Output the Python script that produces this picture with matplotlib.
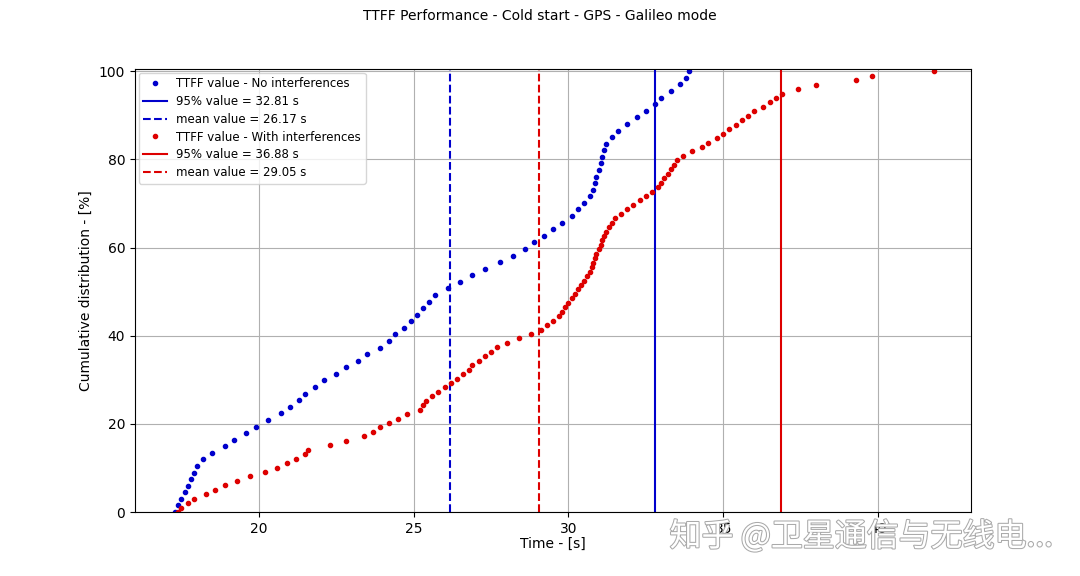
import matplotlib
matplotlib.use("Agg")
import matplotlib.pyplot as plt
import matplotlib.patheffects as pe

blue_times = [17.3,17.4,17.5,17.6,17.7,17.8,17.9,18.0,18.2,18.5,18.9,19.2,19.6,19.9,20.3,20.7,21.0,21.3,21.5,21.8,
              22.1,22.5,22.8,23.2,23.5,23.9,24.2,24.4,24.7,24.9,25.1,25.3,25.5,25.7,26.1,26.5,26.9,27.3,27.8,28.2,
              28.6,28.9,29.2,29.5,29.8,30.1,30.3,30.5,30.7,30.8,30.85,30.9,31.0,31.05,31.1,31.15,31.2,31.4,31.6,31.9,
              32.2,32.5,32.8,33.0,33.3,33.6,33.8,33.9]
red_times = [17.4,17.5,17.7,17.9,18.3,18.6,18.9,19.3,19.7,20.2,
             20.6,20.9,21.2,21.5,21.6,22.3,22.8,23.4,23.7,23.9,
             24.2,24.5,24.8,25.2,25.3,25.4,25.6,25.8,26.0,26.2,
             26.4,26.6,26.8,26.9,27.1,27.3,27.5,27.7,28.0,28.4,
             28.8,29.1,29.3,29.5,29.7,29.8,29.9,30.0,30.1,30.2,
             30.3,30.4,30.5,30.6,30.7,30.75,30.8,30.85,30.9,31.0,
             31.05,31.1,31.15,31.2,31.3,31.4,31.5,31.7,31.9,32.1,
             32.3,32.5,32.7,32.9,33.0,33.1,33.2,33.3,33.4,33.5,
             33.7,34.0,34.3,34.5,34.8,35.0,35.2,35.4,35.6,35.8,
             36.0,36.3,36.5,36.7,36.9,37.4,38.0,39.3,39.8,41.8]
blue_p95, blue_mean = 32.81, 26.17
red_p95, red_mean = 36.88, 29.05

def cdf(t):
    n = len(t)
    return [100.0 * i / (n - 1) for i in range(n)]

fig = plt.figure(figsize=(10.8, 5.76), dpi=100)
ax = fig.add_axes([0.125, 0.111, 0.774, 0.769])
ax.plot(blue_times, cdf(blue_times), '.', color='#0000cc', label='TTFF value - No interferences')
ax.axvline(blue_p95, color='#0000cc', ls='-', lw=1.5, label=f'95% value = {blue_p95:.2f} s')
ax.axvline(blue_mean, color='#0000cc', ls='--', lw=1.5, label=f'mean value = {blue_mean:.2f} s')
ax.plot(red_times, cdf(red_times), '.', color='#dd0000', label='TTFF value - With interferences')
ax.axvline(red_p95, color='#dd0000', ls='-', lw=1.5, label=f'95% value = {red_p95:.2f} s')
ax.axvline(red_mean, color='#dd0000', ls='--', lw=1.5, label=f'mean value = {red_mean:.2f} s')
ax.set_xlim(16.0, 43.0)
ax.set_ylim(0, 100.5)
ax.set_xticks([20, 25, 30, 35, 40])
ax.set_yticks([0, 20, 40, 60, 80, 100])
ax.grid(True)
ax.set_xlabel('Time - [s]', labelpad=1)
ax.set_ylabel('Cumulative distribution - [%]')
ax.legend(loc='upper left', fontsize=8.5, borderaxespad=0.3, labelspacing=0.4)
fig.suptitle('TTFF Performance - Cold start - GPS - Galileo mode', y=0.985, fontsize=10)
fig.text(0.62, 0.052, '知乎 @卫星通信与无线电...', fontsize=23, color='white',
         family=['Noto Sans CJK SC', 'DejaVu Sans'],
         path_effects=[pe.withStroke(linewidth=1.5, foreground='#aaaaaa')])
fig.savefig('out.png', dpi=100)
